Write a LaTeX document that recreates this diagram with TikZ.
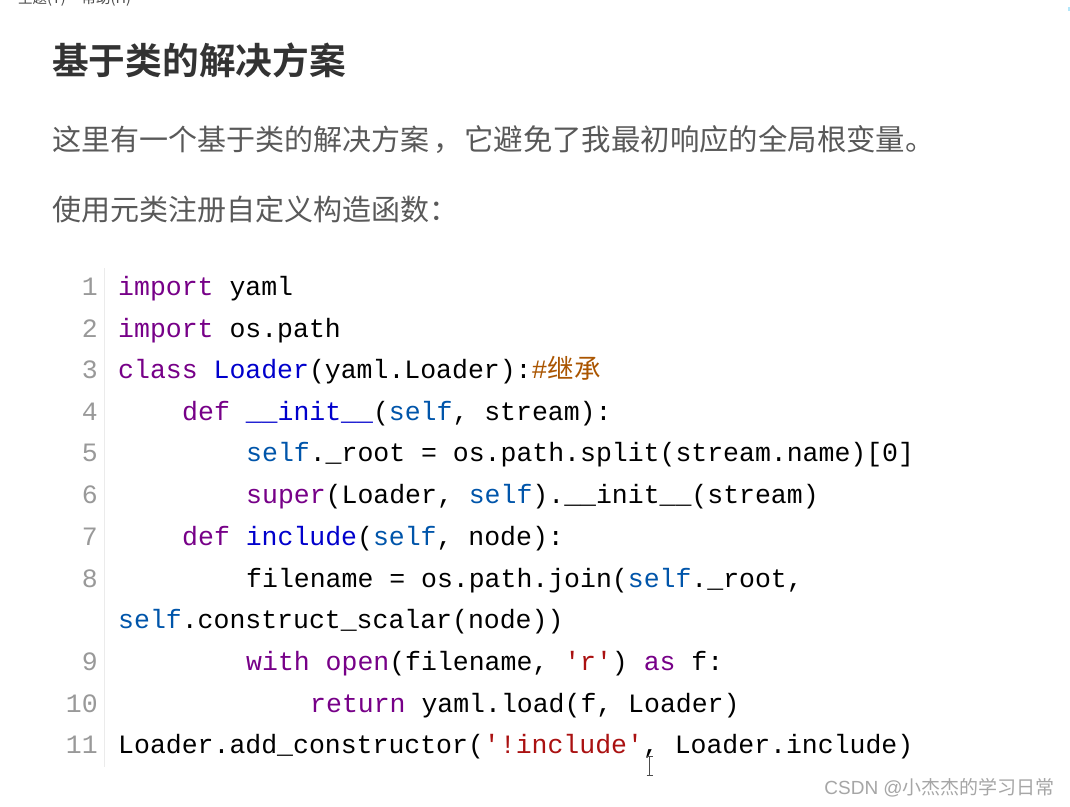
\documentclass[tikz,border=0pt]{standalone}
\usepackage{fontspec}
\usepackage{xcolor}
\setmainfont{Liberation Sans}
\newfontfamily\cjkfont{Noto Sans CJK SC}[BoldFont={Noto Sans CJK SC Bold}]
\newfontfamily\codefont{Liberation Mono}
\usetikzlibrary{positioning}
\definecolor{kwcolor}{HTML}{770088}
\definecolor{defcolor}{HTML}{0000CC}
\definecolor{selfcolor}{HTML}{0055AA}
\definecolor{strcolor}{HTML}{AA1111}
\definecolor{cmtcolor}{HTML}{AA5500}
\newcommand{\kw}[1]{\textcolor{kwcolor}{#1}}
\newcommand{\df}[1]{\textcolor{defcolor}{#1}}
\newcommand{\slf}[1]{\textcolor{selfcolor}{#1}}
\newcommand{\str}[1]{\textcolor{strcolor}{#1}}
\tikzstyle{title}=[anchor=base west,inner sep=0pt,text=black!80,font=\cjkfont\bfseries\fontsize{36.7}{40}\selectfont]
\tikzstyle{para}=[anchor=base west,inner sep=0pt,text=black!65,font=\cjkfont\fontsize{29}{34}\selectfont]
\tikzstyle{codeline}=[anchor=base west,inner sep=0pt,text=black,font=\codefont\fontsize{26.5}{30}\selectfont]
\tikzstyle{lineno}=[anchor=base east,inner sep=0pt,text=black!40,font=\codefont\fontsize{26.5}{30}\selectfont]
\tikzstyle{menu}=[anchor=base west,inner sep=0pt,text=black!70,font=\cjkfont\fontsize{14.5}{16}\selectfont]
\tikzstyle{wmark}=[anchor=base east,inner sep=0pt,text=black!35,font=\cjkfont\fontsize{19}{22}\selectfont]

\begin{document}
\begin{tikzpicture}[x=1pt,y=-1pt]
\useasboundingbox (0,0) rectangle (1070,806);
\clip (0,0) rectangle (1070,806);
\fill[white] (0,0) rectangle (1070,806);
\node [menu] (menu) at (18,3) {主题(T)\hspace{16pt}帮助(H)};
\node [title] (head) at (52,74) {基于类的解决方案};
\node [para] (intro) at (52,150) {这里有一个基于类的解决方案\hspace{4pt}，\hspace{2pt}{\fontsize{29.4}{34}\selectfont 它避免了我最初响应的全局根变量。}};
\node [para] (usage) at (52,220) {使用元类注册自定义构造函数：};
\draw [black!8] (104,268) -- (104,767);
\foreach \n/\y in {1/295,2/337,3/378,4/420,5/461,6/503,7/545,8/587,9/670,10/712,11/753}
    \node [lineno] (no\n) at (98,\y) {\n};
\node [codeline] (line1) at (118,295) {\kw{import} yaml};
\node [codeline] (line2) at (118,337) {\kw{import} os.path};
\node [codeline] (line3) at (118,378) {\kw{class} \df{Loader}(yaml.Loader):\textcolor{cmtcolor}{\#{\cjkfont 继承}}};
\node [codeline] (line4) at (182,420) {\kw{def} \df{\_\_init\_\_}(\slf{self}, stream):};
\node [codeline] (line5) at (246,461) {\slf{self}.\_root = os.path.split(stream.name)[0]};
\node [codeline] (line6) at (246,503) {\kw{super}(Loader, \slf{self}).\_\_init\_\_(stream)};
\node [codeline] (line7) at (182,545) {\kw{def} \df{include}(\slf{self}, node):};
\node [codeline] (line8) at (246,587) {filename = os.path.join(\slf{self}.\_root,};
\node [codeline] (wrap8) at (118,628) {\slf{self}.construct\_scalar(node))};
\node [codeline] (line9) at (246,670) {\kw{with} \kw{open}(filename, \str{'r'}) \kw{as} f:};
\node [codeline] (line10) at (310,712) {\kw{return} yaml.load(f, Loader)};
\node [codeline] (line11) at (118,753) {Loader.add\_constructor(\str{'!include'}, Loader.include)};
% text cursor
\draw [black!70,line width=1pt] (649.5,756) -- (649.5,775);
\draw [black!70,line width=0.8pt] (646.5,775) -- (653,775) (646.5,756) -- (653,756);
\fill [cyan!30] (1068,7) rectangle (1070,11);
\node [wmark] (wm) at (1055,794) {{\fontspec{Liberation Sans}CSDN @}小杰杰的学习日常};
\end{tikzpicture}
\end{document}
